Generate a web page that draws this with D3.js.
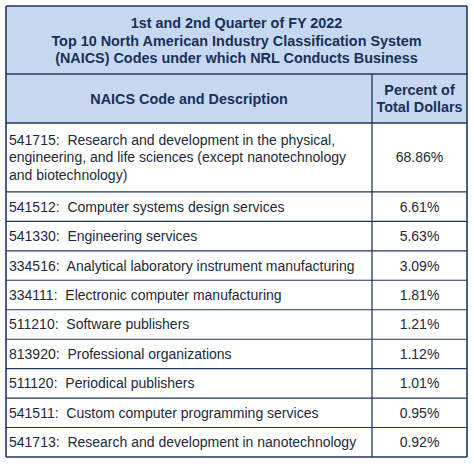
<!DOCTYPE html>
<html><head><meta charset="utf-8">
<script src="https://cdn.jsdelivr.net/npm/d3@7"></script>
<style>body{margin:0;background:#fff}</style>
</head><body><div id="chart-area"></div>
<script>
var titleLines = ["1st and 2nd Quarter of FY 2022",
  "Top 10 North American Industry Classification System",
  "(NAICS) Codes under which NRL Conducts Business"];
var headers = [["NAICS Code and Description"], ["Percent of", "Total Dollars"]];
var codes = ["541715", "541512", "541330", "334516", "334111", "511210", "813920", "511120", "541511", "541713"];
var descriptions = [
  ["Research and development in the physical,", "engineering, and life sciences (except nanotechnology", "and biotechnology)"],
  ["Computer systems design services"],
  ["Engineering services"],
  ["Analytical laboratory instrument manufacturing"],
  ["Electronic computer manufacturing"],
  ["Software publishers"],
  ["Professional organizations"],
  ["Periodical publishers"],
  ["Custom computer programming services"],
  ["Research and development in nanotechnology"]
];
var percents = [68.86, 6.61, 5.63, 3.09, 1.81, 1.21, 1.12, 1.01, 0.95, 0.92];

var W = 474, H = 464;
var left = 6, right = 467, split = 372;
var titleTop = 6, headTop = 74, bodyTop = 123, bodyBottom = 457;
var border = "#1f3864", fill = "#c6d9f0", headText = "#1a2f5a", bodyText = "#222a3a";

var svg = d3.select("#chart-area").append("svg").attr("width", W).attr("height", H)
  .style("font-family", "'Liberation Sans', Arial, sans-serif");

// row heights weighted by line count
var weights = descriptions.map(d => d.length === 1 ? 1 : 2.34);
var cum = [0]; weights.forEach(w => cum.push(cum[cum.length - 1] + w));
var y = d3.scaleLinear().domain([0, cum[cum.length - 1]]).range([bodyTop, bodyBottom]);

svg.append("rect").attr("x", left).attr("y", titleTop).attr("width", right - left).attr("height", bodyTop - titleTop).attr("fill", fill);

var lh = 17.5;
svg.selectAll(".title").data(titleLines).join("text")
  .attr("x", (left + right) / 2).attr("y", (d, i) => 28 + i * lh)
  .attr("text-anchor", "middle").attr("font-size", 14.4).attr("font-weight", "bold").attr("fill", headText)
  .text(d => d);

var hcx = [(left + split) / 2, (split + right) / 2];
headers.forEach((lines, c) => {
  var mid = (headTop + bodyTop) / 2;
  lines.forEach((t, i) => {
    svg.append("text").attr("x", hcx[c]).attr("y", mid + 5 + (i - (lines.length - 1) / 2) * lh)
      .attr("text-anchor", "middle").attr("font-size", 14.4).attr("font-weight", "bold").attr("fill", headText).text(t);
  });
});

var fmt = d3.format(".2f");
codes.forEach((code, r) => {
  var y0 = y(cum[r]), y1 = y(cum[r + 1]), mid = (y0 + y1) / 2;
  var lines = descriptions[r];
  lines.forEach((t, i) => {
    svg.append("text").attr("x", left + 3).attr("y", mid + 5 + (i - (lines.length - 1) / 2) * 17.5)
      .attr("font-size", 14).attr("fill", bodyText).attr("xml:space", "preserve")
      .text(i === 0 ? code + ":  " + t : t);
  });
  svg.append("text").attr("x", (split + right) / 2).attr("y", mid + 5)
    .attr("text-anchor", "middle").attr("font-size", 14).attr("fill", bodyText).text(fmt(percents[r]) + "%");
});

// grid lines
var hl = [titleTop, headTop, bodyTop].concat(cum.slice(1).map(c => y(c)));
svg.selectAll(".hl").data(hl).join("line")
  .attr("x1", left).attr("x2", right).attr("y1", d => d).attr("y2", d => d)
  .attr("stroke", border).attr("stroke-width", (d, i) => i < 3 || i === hl.length - 1 ? 1.6 : 1.1);
svg.append("line").attr("x1", left).attr("x2", left).attr("y1", titleTop).attr("y2", bodyBottom).attr("stroke", border).attr("stroke-width", 1.6);
svg.append("line").attr("x1", right).attr("x2", right).attr("y1", titleTop).attr("y2", bodyBottom).attr("stroke", border).attr("stroke-width", 1.6);
svg.append("line").attr("x1", split).attr("x2", split).attr("y1", headTop).attr("y2", bodyBottom).attr("stroke", border).attr("stroke-width", 1.3);
</script></body></html>
